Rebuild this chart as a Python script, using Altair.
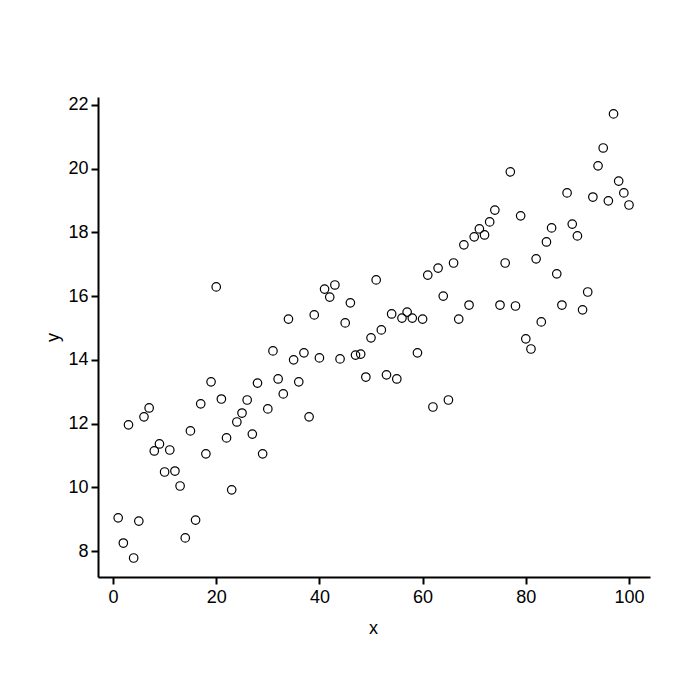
import altair as alt
import pandas as pd

x_vals = list(range(1, 101))
y_vals = [
    9.04, 8.25, 11.96, 7.78, 8.94, 12.21, 12.49, 11.14, 11.36, 10.48,
    11.17, 10.51, 10.04, 8.41, 11.77, 8.97, 12.62, 11.05, 13.31, 16.29,
    12.77, 11.55, 9.92, 12.05, 12.33, 12.74, 11.67, 13.27, 11.05, 12.46,
    14.28, 13.40, 12.93, 15.28, 14.00, 13.31, 14.22, 12.21, 15.41, 14.06,
    16.22, 15.97, 16.35, 14.03, 15.16, 15.79, 14.15, 14.18, 13.46, 14.69,
    16.51, 14.94, 13.53, 15.44, 13.40, 15.31, 15.50, 15.31, 14.22, 15.28,
    16.66, 12.52, 16.88, 16.00, 12.74, 17.04, 15.28, 17.61, 15.72, 17.86,
    18.11, 17.92, 18.33, 18.70, 15.72, 17.04, 19.90, 15.69, 18.52, 14.66,
    14.34, 17.17, 15.19, 17.70, 18.14, 16.70, 15.72, 19.24, 18.26, 17.89,
    15.57, 16.13, 19.11, 20.09, 20.65, 18.99, 21.72, 19.61, 19.24, 18.86,
]
x_ticks = [0, 20, 40, 60, 80, 100]
y_ticks = [8, 10, 12, 14, 16, 18, 20, 22]

df = pd.DataFrame({"x": x_vals, "y": y_vals})

FONT = "Liberation Sans"

chart = alt.Chart(df).mark_point(
    shape="circle", filled=False, color="black", strokeWidth=1.2, size=72, opacity=1
).encode(
    x=alt.X("x:Q", scale=alt.Scale(domain=[-2.91, 104.07], nice=False, zero=False),
            axis=alt.Axis(values=x_ticks, title="x", grid=False, domainColor="black",
                          domainWidth=2, tickColor="black", tickWidth=2, tickSize=7,
                          labelFontSize=18, labelFont=FONT, labelColor="black",
                          labelPadding=4, titleFont=FONT, titleFontSize=18,
                          titleFontWeight="normal", titleColor="black",
                          titleX=275, titleY=56, titleBaseline="alphabetic")),
    y=alt.Y("y:Q", scale=alt.Scale(domain=[7.184, 22.25], nice=False, zero=False),
            axis=alt.Axis(values=y_ticks, title="y", grid=False, domainColor="black",
                          domainWidth=2, tickColor="black", tickWidth=2, tickSize=7,
                          labelFontSize=18, labelFont=FONT, labelColor="black",
                          labelPadding=3, titleFont=FONT, titleFontSize=18,
                          titleFontWeight="normal", titleColor="black",
                          titleX=-45, titleY=240, titleBaseline="middle",
                          titleAngle=270)),
).properties(
    width=552, height=480,
    autosize=alt.AutoSizeParams(type="none"),
    padding={"left": 90, "top": 89, "right": 40, "bottom": 100},
    background="white",
).configure_view(stroke=None)

chart.save("out.html", embed_options={"renderer": "svg", "actions": False})
